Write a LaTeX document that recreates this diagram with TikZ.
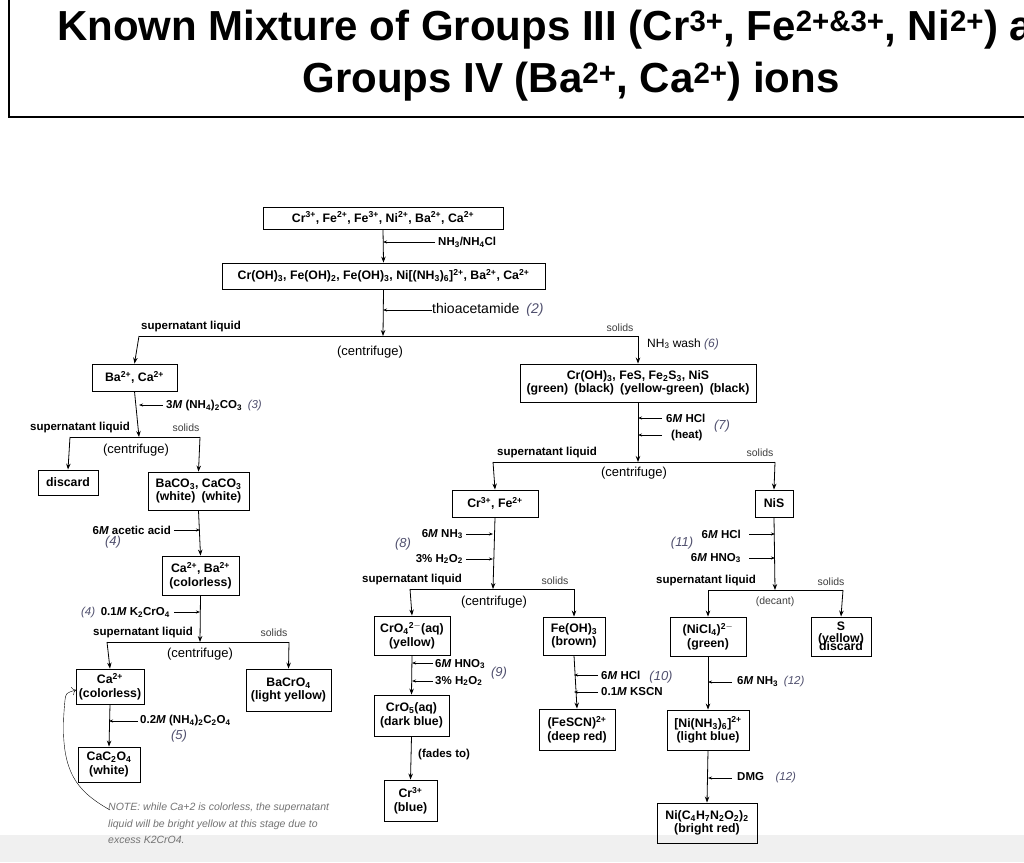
\documentclass[tikz,border=0pt]{standalone}
\usepackage{fontspec}
\setmainfont{Liberation Sans}
\usetikzlibrary{arrows.meta}
\definecolor{numc}{RGB}{80,80,110}
\newcommand\sps[1]{\textsuperscript{#1}}
\newcommand\sbs[1]{\textsubscript{#1}}
\newcommand\bx[6]{\node[box,minimum width={(#4-#2)*1pt},minimum height={(#5-#3)*1pt}] (#1) at ({(#2+#4)/2},{(#3+#5)/2}) {#6};}
\tikzset{
 box/.style={draw,line width=0.9pt,align=center,inner sep=0pt,font=\bfseries\fontsize{12.3}{13.5}\selectfont},
 lab/.style={font=\bfseries\fontsize{11.5}{12}\selectfont,inner sep=1pt},
 cent/.style={font=\fontsize{13}{13}\selectfont,inner sep=0pt},
 num/.style={font=\itshape\fontsize{13}{13}\selectfont,text=numc,inner sep=0pt},
 sol/.style={font=\fontsize{10.5}{11}\selectfont,text=black!75,inner sep=0pt},
 ar/.style={-{Stealth[length=6pt,width=4.5pt]},line width=0.8pt},
 ln/.style={line width=0.8pt},
 rg/.style={-{Stealth[length=4pt,width=3pt]},line width=0.6pt}
}
\begin{document}
\begin{tikzpicture}[x=1pt,y=-1pt]
\clip (0,0) rectangle (1024,862);
\fill[white] (0,0) rectangle (1024,862);
\fill[black!6] (0,835) rectangle (1024,862);
% title
\draw[line width=1.6pt] (9,-5) -- (9,117) -- (1030,117);
\node[anchor=west,font=\bfseries\fontsize{42}{42}\selectfont,inner sep=0] (t1) at (57,30) {Known Mixture of Groups III (Cr\sps{3+}, Fe\sps{2+\&3+}, Ni\sps{2+}) and};
\node[font=\bfseries\fontsize{42}{42}\selectfont,inner sep=0] (t2) at (571,82) {Groups IV (Ba\sps{2+}, Ca\sps{2+}) ions};
% boxes
\bx{top}{263}{207}{503}{229}{Cr\sps{3+}, Fe\sps{2+}, Fe\sps{3+}, Ni\sps{2+}, Ba\sps{2+}, Ca\sps{2+}}
\bx{b2}{222}{263}{545}{289}{Cr(OH)\sbs{3}, Fe(OH)\sbs{2}, Fe(OH)\sbs{3}, Ni[(NH\sbs{3})\sbs{6}]\sps{2+}, Ba\sps{2+}, Ca\sps{2+}}
\bx{ba}{92}{364}{177}{391}{Ba\sps{2+}, Ca\sps{2+}}
\bx{rb}{520}{364}{756}{402}{Cr(OH)\sbs{3}, FeS, Fe\sbs{2}S\sbs{3}, NiS\\(green)\enspace(black)\enspace(yellow-green)\enspace(black)}
\bx{disc}{38}{470}{98}{495}{discard}
\bx{baco}{148}{472}{249}{510}{BaCO\sbs{3}, CaCO\sbs{3}\\(white)\enspace(white)}
\bx{caba}{162}{556}{239}{595}{Ca\sps{2+}, Ba\sps{2+}\\(colorless)}
\bx{ca}{76}{669}{144}{704}{Ca\sps{2+}\\(colorless)}
\bx{bacr}{246}{669}{331}{711}{BaCrO\sbs{4}\\(light yellow)}
\bx{cac}{78}{747}{140}{782}{CaC\sbs{2}O\sbs{4}\\(white)}
\bx{crfe}{452}{490}{538}{517}{Cr\sps{3+}, Fe\sps{2+}}
\bx{nis}{755}{490}{793}{517}{NiS}
\bx{cro4}{374}{616}{450}{655}{CrO\sbs{4}\sps{2$-$}(aq)\\(yellow)}
\bx{feoh}{543}{617}{605}{655}{Fe(OH)\sbs{3}\\(brown)}
\bx{cro5}{374}{695}{449}{736}{CrO\sbs{5}(aq)\\(dark blue)}
\bx{cr3}{384}{780}{437}{821}{Cr\sps{3+}\\(blue)}
\bx{fescn}{539}{709}{615}{750}{(FeSCN)\sps{2+}\\(deep red)}
\bx{nicl}{670}{617}{746}{656}{(NiCl\sbs{4})\sps{2$-$}\\(green)}
\bx{sbox}{811}{617}{871}{656}{S\\[-2pt](yellow)\\[-5pt]discard}
\bx{nin}{667}{710}{749}{750}{[Ni(NH\sbs{3})\sbs{6}]\sps{2+}\\(light blue)}
\bx{nidmg}{657}{803}{757}{843}{Ni(C\sbs{4}H\sbs{7}N\sbs{2}O\sbs{2})\sbs{2}\\(bright red)}
% top chain
\draw[ar] (top.south) -- (b2.north);
\coordinate (r1a) at (435,242); \coordinate (r1b) at (383,242);
\draw[rg] (r1a) -- (r1b);
\node[lab,anchor=west] at (437,242) {NH\sbs{3}/NH\sbs{4}Cl};
\coordinate (s1) at (383,336); \coordinate (s1L) at (139,336); \coordinate (s1R) at (638,336);
\draw[ar] (b2.south) -- (s1);
\coordinate (r2a) at (432,310); \coordinate (r2b) at (383,310);
\draw[rg] (r2a) -- (r2b);
\node[anchor=west,font=\fontsize{14}{14}\selectfont,inner sep=1pt] at (431,310) {thioacetamide\enspace\textcolor{numc}{\itshape(2)}};
\draw[ln] (s1L) -- (s1R);
\draw[ar] (s1L) -- (ba.north);
\draw[ar] (s1R) -- (rb.north);
\node[lab] at (191,327) {supernatant liquid};
\node[sol] at (620,328) {solids};
\node[cent] at (370,352) {(centrifuge)};
\node[anchor=west,font=\fontsize{12}{12}\selectfont,inner sep=0] at (647,344) {NH\sbs{3} wash \textcolor{numc}{\itshape(6)}};
% Ba branch
\coordinate (s2) at (139,437); \coordinate (s2L) at (70,437); \coordinate (s2R) at (200,437);
\draw[ar] (ba.south) -- (s2);
\coordinate (r3a) at (163,405); \coordinate (r3b) at (139,405);
\draw[rg] (r3a) -- (r3b);
\node[lab,anchor=west] at (165,406) {3\textit{M} (NH\sbs{4})\sbs{2}CO\sbs{3}\enspace\textcolor{numc}{\mdseries\itshape(3)}};
\draw[ln] (s2L) -- (s2R);
\draw[ar] (s2L) -- (disc.north);
\draw[ar] (s2R) -- (baco.north);
\node[lab,anchor=east] at (131,428) {supernatant liquid};
\node[sol] at (186,428) {solids};
\node[cent] at (136,450) {(centrifuge)};
\draw[ar] (baco.south) -- (caba.north);
\coordinate (r4a) at (174,530); \coordinate (r4b) at (200,530);
\draw[rg] (r4a) -- (r4b);
\node[lab,anchor=east] at (172,530) {6\textit{M} acetic acid};
\node[num] at (113,542) {(4)};
\coordinate (s3) at (200,642); \coordinate (s3L) at (107,642); \coordinate (s3R) at (289,642);
\draw[ar] (caba.south) -- (s3);
\coordinate (r5a) at (174,612); \coordinate (r5b) at (200,612);
\draw[rg] (r5a) -- (r5b);
\node[lab,anchor=east] at (171,613) {\textcolor{numc}{\mdseries\itshape(4)}\enspace 0.1\textit{M} K\sbs{2}CrO\sbs{4}};
\draw[ln] (s3L) -- (s3R);
\draw[ar] (s3L) -- (ca.north);
\draw[ar] (s3R) -- (bacr.north);
\node[lab] at (143,633) {supernatant liquid};
\node[sol] at (274,633) {solids};
\node[cent] at (200,654) {(centrifuge)};
\draw[ar] (ca.south) -- (cac.north);
\coordinate (r6a) at (138,721); \coordinate (r6b) at (109,721);
\draw[rg] (r6a) -- (r6b);
\node[lab,anchor=west] at (139,721) {0.2\textit{M} (NH\sbs{4})\sbs{2}C\sbs{2}O\sbs{4}};
\node[num] at (179,736) {(5)};
\coordinate (nt) at (110,810); \coordinate (nc) at (76,690);
\draw[-{To[length=4pt]},line width=0.4pt] (nt) .. controls (75,790) and (58,770) .. (65,700) .. controls (66,693) .. (nc);
\node[anchor=north west,align=left,text=black!55,font=\itshape\fontsize{10.5}{16.5}\selectfont,inner sep=0] at (108,803) {NOTE: while Ca+2 is colorless, the supernatant\\liquid will be bright yellow at this stage due to\\excess K2CrO4.};
% right solids chain
\coordinate (s4) at (638,462); \coordinate (s4L) at (493,462); \coordinate (s4R) at (775,462);
\draw[ar] (rb.south) -- (s4);
\coordinate (r7a) at (662,418); \coordinate (r7b) at (638,418);
\draw[rg] (r7a) -- (r7b);
\coordinate (r7c) at (662,435); \coordinate (r7d) at (638,435);
\draw[rg] (r7c) -- (r7d);
\node[lab,anchor=west] at (665,418) {6\textit{M} HCl};
\node[lab,anchor=west] at (670,436) {(heat)};
\node[num] at (722,426) {(7)};
\draw[ln] (s4L) -- (s4R);
\draw[ar] (s4L) -- (crfe.north);
\draw[ar] (s4R) -- (nis.north);
\node[lab] at (547,453) {supernatant liquid};
\node[sol] at (760,453) {solids};
\node[cent] at (634,473) {(centrifuge)};
% Cr/Fe branch
\coordinate (s5) at (493,589); \coordinate (s5L) at (410,589); \coordinate (s5R) at (574,589);
\draw[ar] (crfe.south) -- (s5);
\coordinate (r8a) at (466,534); \coordinate (r8b) at (493,534);
\draw[rg] (r8a) -- (r8b);
\coordinate (r8c) at (466,559); \coordinate (r8d) at (493,559);
\draw[rg] (r8c) -- (r8d);
\node[lab,anchor=east] at (464,534) {6\textit{M} NH\sbs{3}};
\node[lab,anchor=east] at (464,559) {3\% H\sbs{2}O\sbs{2}};
\node[num] at (403,544) {(8)};
\draw[ln] (s5L) -- (s5R);
\draw[ar] (s5L) -- (cro4.north);
\draw[ar] (s5R) -- (feoh.north);
\node[lab] at (412,580) {supernatant liquid};
\node[sol] at (555,581) {solids};
\node[cent] at (494,602) {(centrifuge)};
\draw[ar] (cro4.south) -- (cro5.north);
\coordinate (r9a) at (433,663); \coordinate (r9b) at (412,663);
\draw[rg] (r9a) -- (r9b);
\coordinate (r9c) at (433,681); \coordinate (r9d) at (412,681);
\draw[rg] (r9c) -- (r9d);
\node[lab,anchor=west] at (434,664) {6\textit{M} HNO\sbs{3}};
\node[lab,anchor=west] at (434,681) {3\% H\sbs{2}O\sbs{2}};
\node[num] at (499,673) {(9)};
\draw[ar] (cro5.south) -- (cr3.north);
\node[lab,anchor=west] at (417,755) {(fades to)};
\draw[ar] (feoh.south) -- (fescn.north);
\coordinate (r10a) at (598,675); \coordinate (r10b) at (574,675);
\draw[rg] (r10a) -- (r10b);
\coordinate (r10c) at (598,692); \coordinate (r10d) at (574,692);
\draw[rg] (r10c) -- (r10d);
\node[lab,anchor=west] at (600,675) {6\textit{M} HCl};
\node[num] at (661,677) {(10)};
\node[lab,anchor=west] at (600,692) {0.1\textit{M} KSCN};
% NiS branch
\coordinate (s6) at (775,590); \coordinate (s6L) at (708,590); \coordinate (s6R) at (843,590);
\draw[ar] (nis.south) -- (s6);
\coordinate (r11a) at (749,534); \coordinate (r11b) at (775,534);
\draw[rg] (r11a) -- (r11b);
\coordinate (r11c) at (749,558); \coordinate (r11d) at (775,558);
\draw[rg] (r11c) -- (r11d);
\node[lab,anchor=east] at (742,534) {6\textit{M} HCl};
\node[lab,anchor=east] at (742,558) {6\textit{M} HNO\sbs{3}};
\node[num] at (682,543) {(11)};
\draw[ln] (s6L) -- (s6R);
\draw[ar] (s6L) -- (nicl.north);
\draw[ar] (s6R) -- (sbox.north);
\node[lab] at (706,581) {supernatant liquid};
\node[sol] at (831,582) {solids};
\node[font=\fontsize{10.5}{10.5}\selectfont,text=black!75,inner sep=0] at (775,602) {(decant)};
\draw[ar] (nicl.south) -- (nin.north);
\coordinate (r12a) at (732,682); \coordinate (r12b) at (708,682);
\draw[rg] (r12a) -- (r12b);
\node[lab,anchor=west] at (736,682) {6\textit{M} NH\sbs{3}\enspace\textcolor{numc}{\mdseries\itshape(12)}};
\draw[ar] (nin.south) -- (nidmg.north);
\coordinate (r13a) at (732,778); \coordinate (r13b) at (708,778);
\draw[rg] (r13a) -- (r13b);
\node[lab,anchor=west] at (736,778) {DMG\quad\textcolor{numc}{\mdseries\itshape(12)}};
\end{tikzpicture}
\end{document}
